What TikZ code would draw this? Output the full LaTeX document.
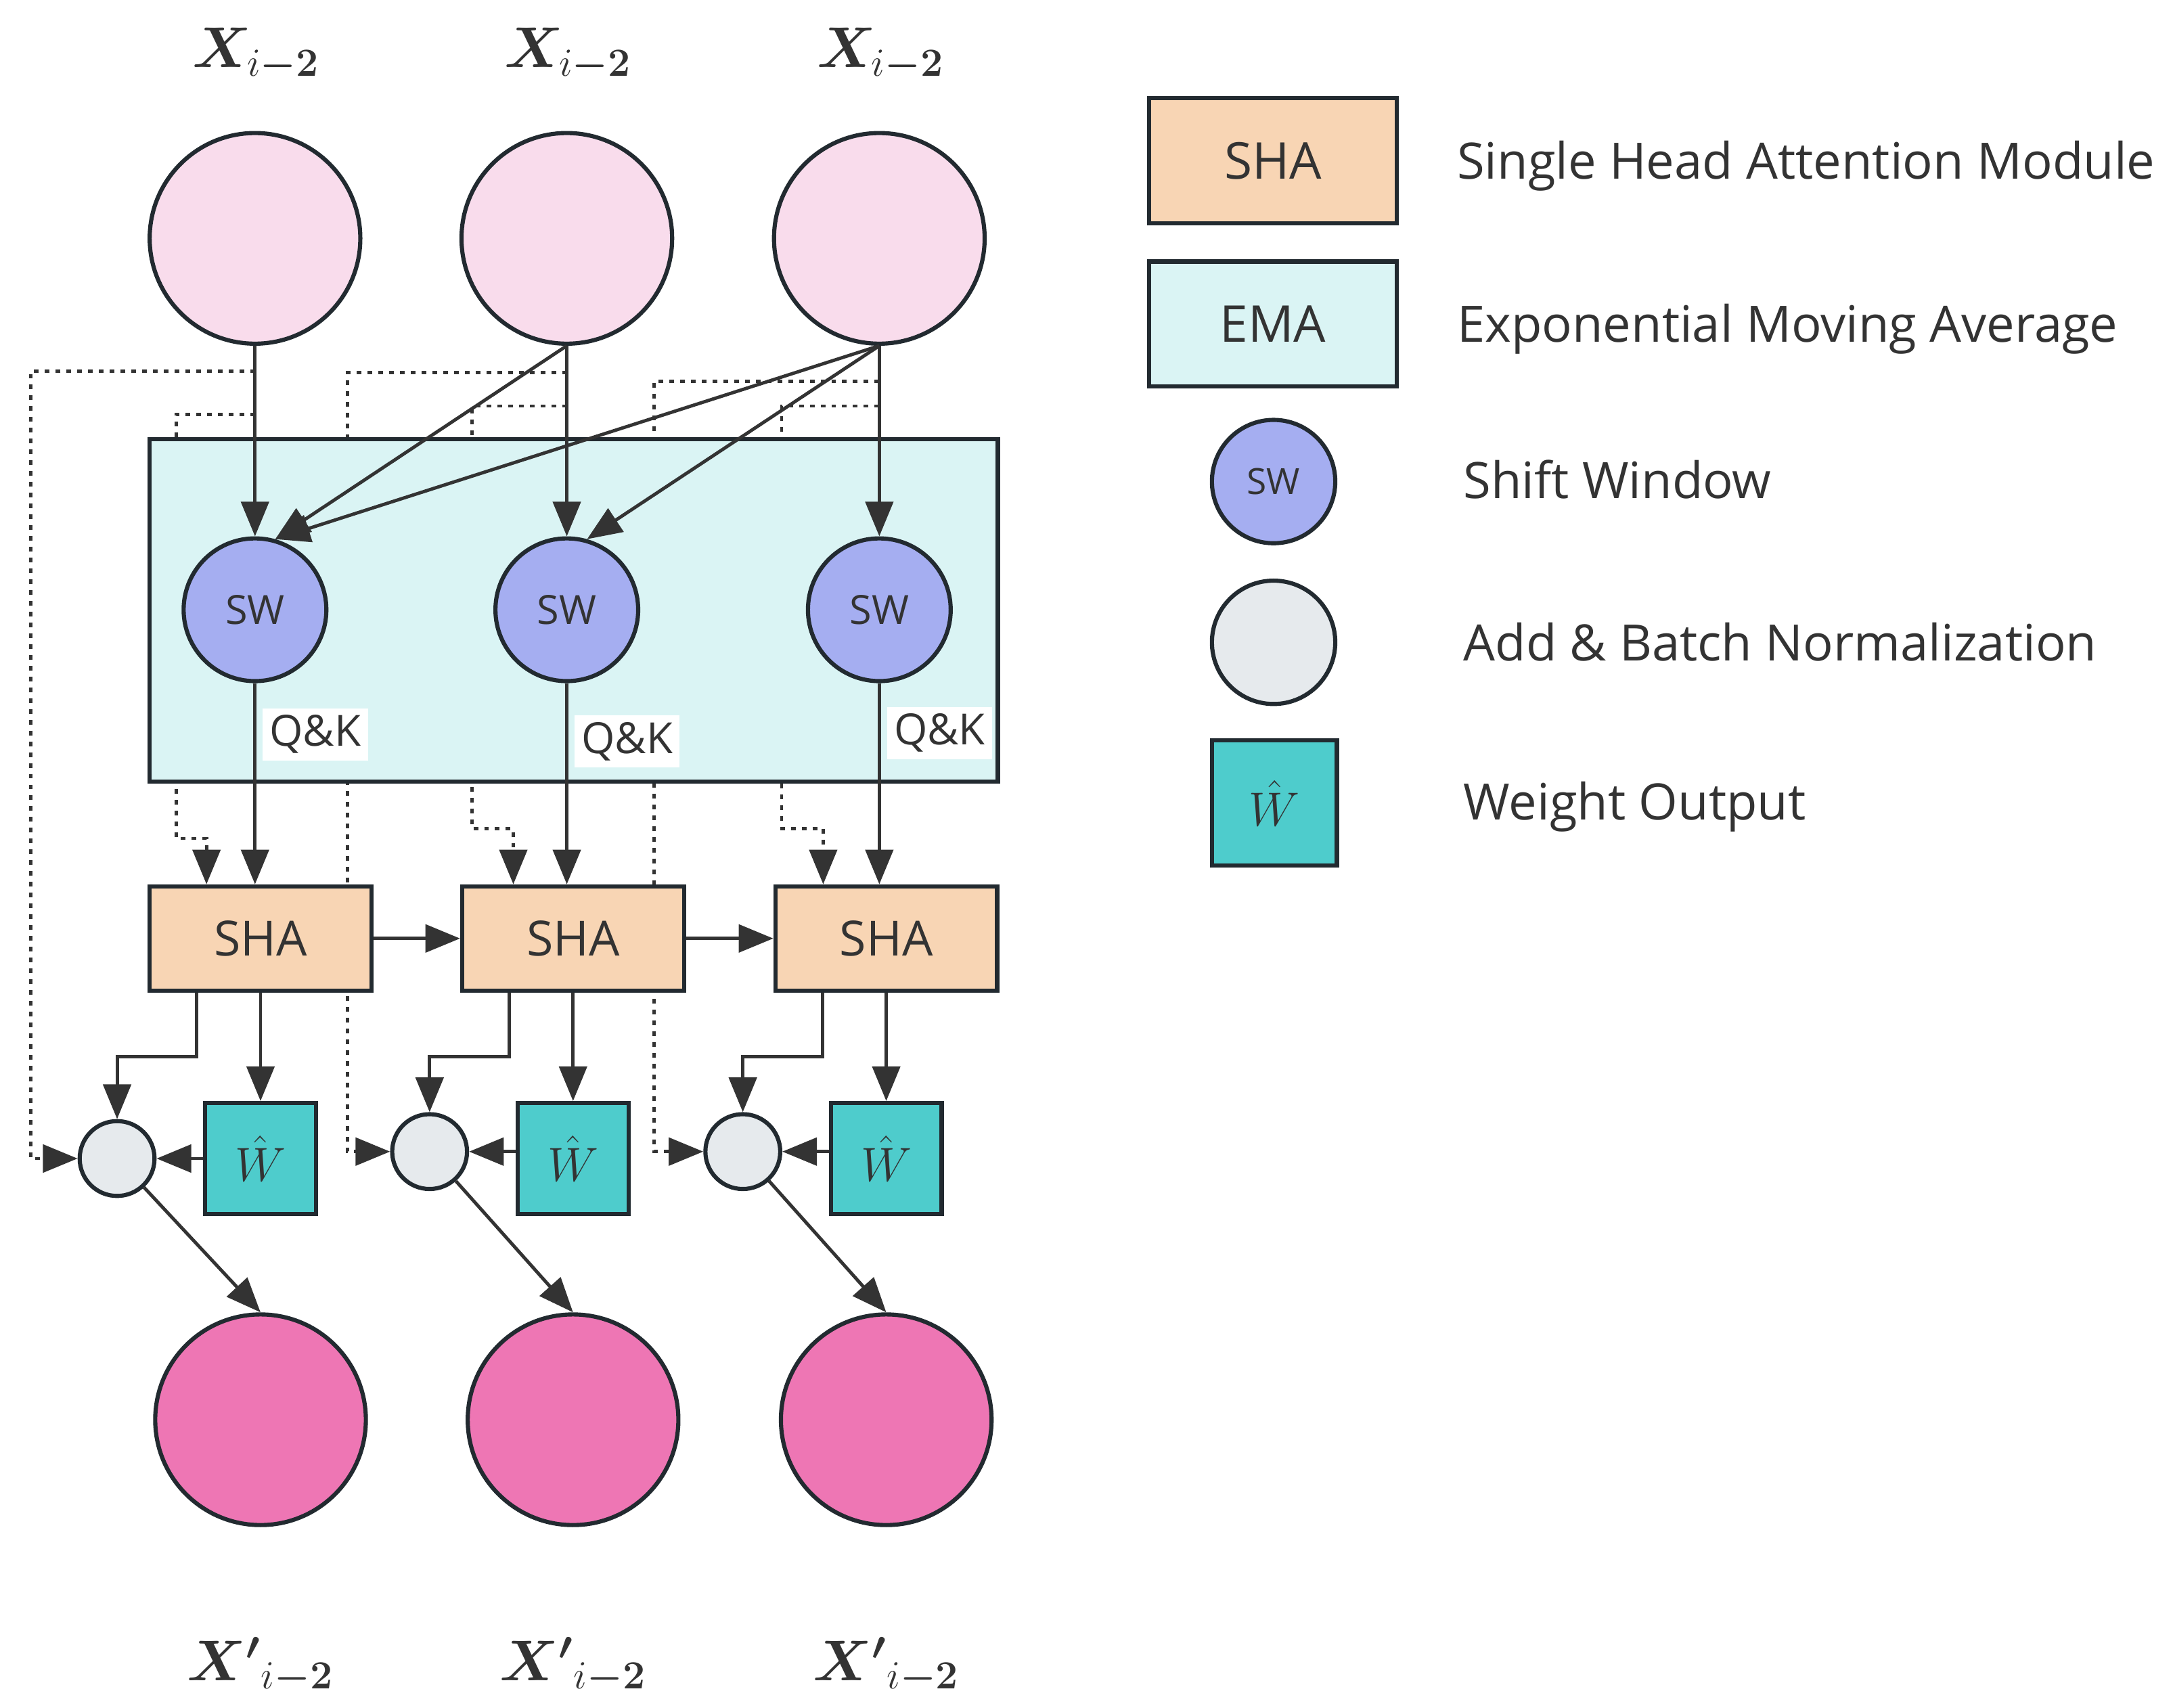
\documentclass[tikz,border=0pt]{standalone}
\usepackage{amsmath,amssymb,bm}
\usepackage[no-math]{fontspec}
\newfontfamily\legendfont{Open Sans}
\usepackage{tikz}
\usetikzlibrary{arrows.meta}
\pgfdeclarelayer{back}
\pgfsetlayers{back,main}
\definecolor{inpink}{HTML}{F9DCEC}
\definecolor{outpink}{HTML}{EE76B4}
\definecolor{emacyan}{HTML}{DAF4F4}
\definecolor{swblue}{HTML}{A5AEF1}
\definecolor{shapeach}{HTML}{F8D5B4}
\definecolor{addgray}{HTML}{E6EAED}
\definecolor{wteal}{HTML}{4ECCCC}
\definecolor{edge}{HTML}{222A30}
\definecolor{ink}{HTML}{333333}

\begin{document}
\begin{tikzpicture}[x=0.5pt,y=-0.5pt,
    every node/.style={text=ink},
    border/.style={draw=edge,line width=1.5pt},
    incirc/.style={border,circle,fill=inpink,minimum size=76pt,inner sep=0},
    outcirc/.style={border,circle,fill=outpink,minimum size=76pt,inner sep=0},
    swcirc/.style={border,circle,fill=swblue,minimum size=51.5pt,inner sep=0,font=\legendfont\fontsize{14.5}{16}\selectfont},
    addcirc/.style={border,circle,fill=addgray,minimum size=27pt,inner sep=0},
    shabox/.style={border,fill=shapeach,minimum width=80pt,minimum height=37.6pt,inner sep=0,font=\legendfont\fontsize{17.5}{20}\selectfont},
    emabox/.style={border,fill=emacyan,inner sep=0,font=\legendfont\fontsize{18.3}{22}\selectfont},
    lgbox/.style={minimum width=89.5pt,minimum height=45pt,font=\legendfont\fontsize{18.3}{22}\selectfont},
    wbox/.style={border,fill=wteal,minimum size=40pt,inner sep=0,font=\fontsize{17}{20}\selectfont},
    qk/.style={fill=white,inner sep=2.5pt,font=\legendfont\fontsize{15.5}{18}\selectfont},
    xlabel/.style={inner sep=0,anchor=base,font=\fontsize{21}{25}\selectfont},
    lgtext/.style={inner sep=0,anchor=base west,font=\legendfont\fontsize{18.1}{22}\selectfont},
    arr/.style={draw=ink,line width=1.2pt,-{Triangle[length=12.5pt,width=10pt]}},
    dotline/.style={arr,dash pattern=on 1.7pt off 2.2pt}]
\useasboundingbox (0,0) rectangle (1568,1232.5);

% EMA block
\node[emabox,minimum width=306pt,minimum height=123.5pt] (ema) at (414,440.5) {};

% columns
\foreach \i/\xs/\xm/\ay/\yq in {1/184/188/836/530, 2/409/413.5/831/535, 3/634.5/639.5/831/529} {
    \node[xlabel] (lin\i) at (\xs+1,48.5) {$\bm{X}_{i\bm{-}\mathbf{2}}$};
    \node[incirc] (in\i) at (\xs,172) {};
    \node[swcirc] (sw\i) at (\xs,440) {SW};
    \node[qk] (qk\i) at (\xs+43.5,\yq) {Q\&K};
    \node[shabox] (sha\i) at (\xm,677.2) {SHA};
    \node[addcirc] (add\i) at (\xm-103.5,\ay) {};
    \node[wbox] (w\i) at (\xm,836) {$\hat{W}$};
    \node[outcirc] (out\i) at (\xm,1024.5) {};
    \node[xlabel] (lout\i) at (\xm,1212.6) {${\bm{X'}}_{i\bm{-}\mathbf{2}}$};
}

% solid connectors
\foreach \i in {1,2,3} {
    \draw[arr] (in\i) -- (sw\i);
    \draw[arr] (sw\i) -- (sw\i |- sha\i.north);
    \draw[arr] (sha\i) -- (w\i);
    \draw[arr] ([xshift=-23pt]sha\i.south) -- ++(0,46) -| (add\i);
    \draw[arr] (w\i.west |- add\i) -- (add\i);
    \draw[arr] (add\i) -- (out\i.north);
}
\draw[arr] (in2.south) -- (sw1.74);
\draw[arr] (in3.south) -- (sw1.74);
\draw[arr] (in3.south) -- (sw2.74);
\draw[arr] (sha1) -- (sha2);
\draw[arr] (sha2) -- (sha3);

% dotted skip lines, behind the blocks
\begin{pgfonlayer}{back}
\foreach \i/\xs/\ya/\xa/\yb/\xb/\yc/\xe in {1/184/268/22/299/127/605/149, 2/409/269/250.6/293/340.6/598/370.4, 3/634.5/275/472/293/564/598/594} {
    \coordinate (ta\i) at (\xs,\ya);
    \coordinate (tb\i) at (\xs,\yb);
    \draw[dotline] (ta\i) -- (\xa,\ya) |- (add\i);
    \draw[dotline] (tb\i) -- (\xb,\yb) -- (\xb,\yc) -| (\xe,0 |- sha\i.north);
}
\end{pgfonlayer}

% legend
\node[shabox,lgbox] (lsha) at (918.5,116) {SHA};
\node[emabox,lgbox] (lema) at (918.5,233.7) {EMA};
\node[swcirc,minimum size=44.5pt,font=\legendfont\fontsize{13}{15}\selectfont] (lsw) at (919,347.5) {SW};
\node[addcirc,minimum size=44.5pt] (ladd) at (919,463.5) {};
\node[wbox,minimum size=45pt] (lw) at (919.7,579.4) {$\hat{W}$};
\node[lgtext] (tsha) at (1051,129.3) {Single Head Attention Module};
\node[lgtext] (tema) at (1051,246.6) {Exponential Moving Average};
\node[lgtext] (tsw) at (1055.7,359.5) {Shift Window};
\node[lgtext] (tadd) at (1055.7,476.6) {Add \& Batch Normalization};
\node[lgtext] (tw) at (1055.7,591.6) {Weight Output};
\end{tikzpicture}
\end{document}
